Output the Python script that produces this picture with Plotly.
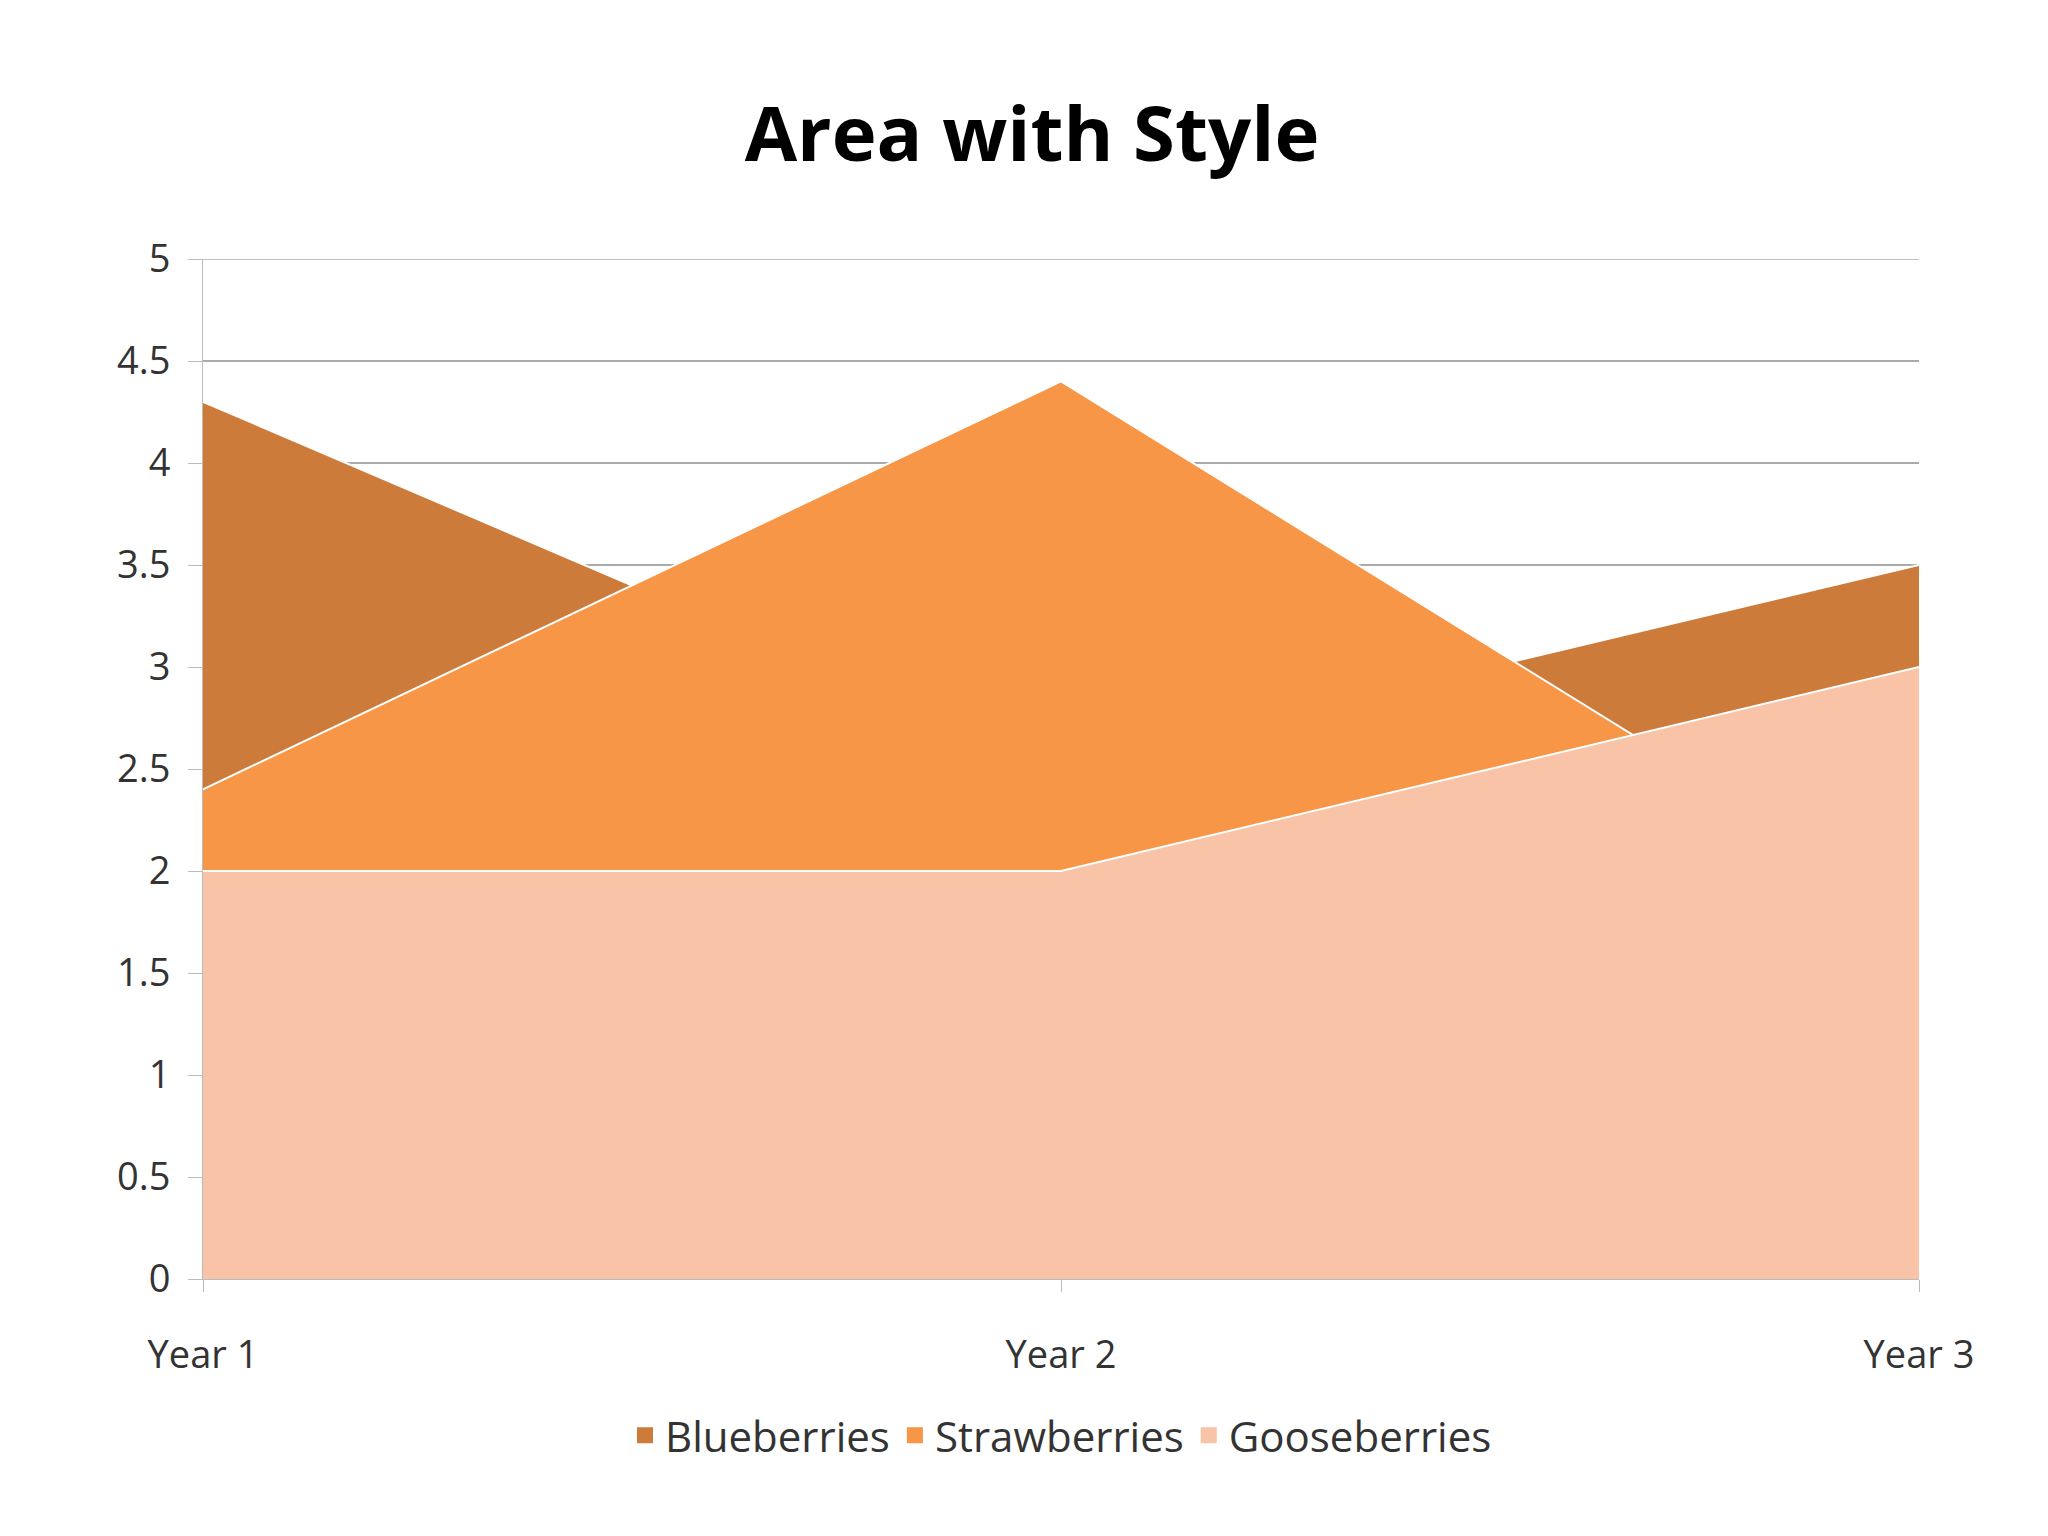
import plotly.graph_objects as go

years = ["Year 1", "Year 2", "Year 3"]
blueberries = [4.3, 2.5, 3.5]
strawberries = [2.4, 4.4, 1.8]
gooseberries = [2.0, 2.0, 3.0]
yticks = [0, 0.5, 1, 1.5, 2, 2.5, 3, 3.5, 4, 4.5, 5]
colors = {"Blueberries": "#CC7B3B", "Strawberries": "#F79646", "Gooseberries": "#F9C3A8"}

fig = go.Figure()
series = [("Blueberries", blueberries), ("Strawberries", strawberries), ("Gooseberries", gooseberries)]
for name, vals in series:
    fig.add_trace(go.Scatter(x=[0, 1, 2], y=vals, name=name, mode="lines", fill="tozeroy",
                             fillcolor=colors[name], line=dict(color="white", width=2),
                             showlegend=False))
# legend entries with square swatches
for name, _ in series:
    fig.add_trace(go.Scatter(x=[None], y=[None], name=name, mode="markers",
                             marker=dict(symbol="square", size=26, color=colors[name])))
fig.update_layout(
    width=2048, height=1536, paper_bgcolor="white", plot_bgcolor="white",
    title=dict(text="<b>Area with Style</b>", x=0.5, y=0.935, xanchor="center",
               font=dict(size=76, color="black", family="Open Sans")),
    margin=dict(l=195, r=137, t=251, b=265),
    font=dict(family="Open Sans", size=38, color="#333"),
    legend=dict(orientation="h", x=0.5, xanchor="center", y=-0.12, yanchor="top",
                font=dict(size=42), traceorder="normal", itemwidth=30),
)
fig.update_xaxes(range=[0, 2], tickvals=[0, 1, 2], ticktext=years, showgrid=False,
                 showline=True, linecolor="#BBBBBB", ticks="outside", tickcolor="#BBBBBB",
                 ticklen=12, zeroline=False, ticklabelstandoff=30)
fig.update_yaxes(range=[0, 5], tickvals=yticks, ticktext=[f"{v:g}" for v in yticks],
                 showgrid=True, gridcolor="#AAAAAA", gridwidth=1.5,
                 showline=True, linecolor="#BBBBBB", ticks="outside", tickcolor="#BBBBBB",
                 ticklen=14, zeroline=False, layer="below traces", ticklabelstandoff=10)
fig.add_shape(type="line", xref="paper", yref="y", x0=0, x1=1, y0=5, y1=5,
              line=dict(color="#AAAAAA", width=1.5))
fig.write_html("out.html")
